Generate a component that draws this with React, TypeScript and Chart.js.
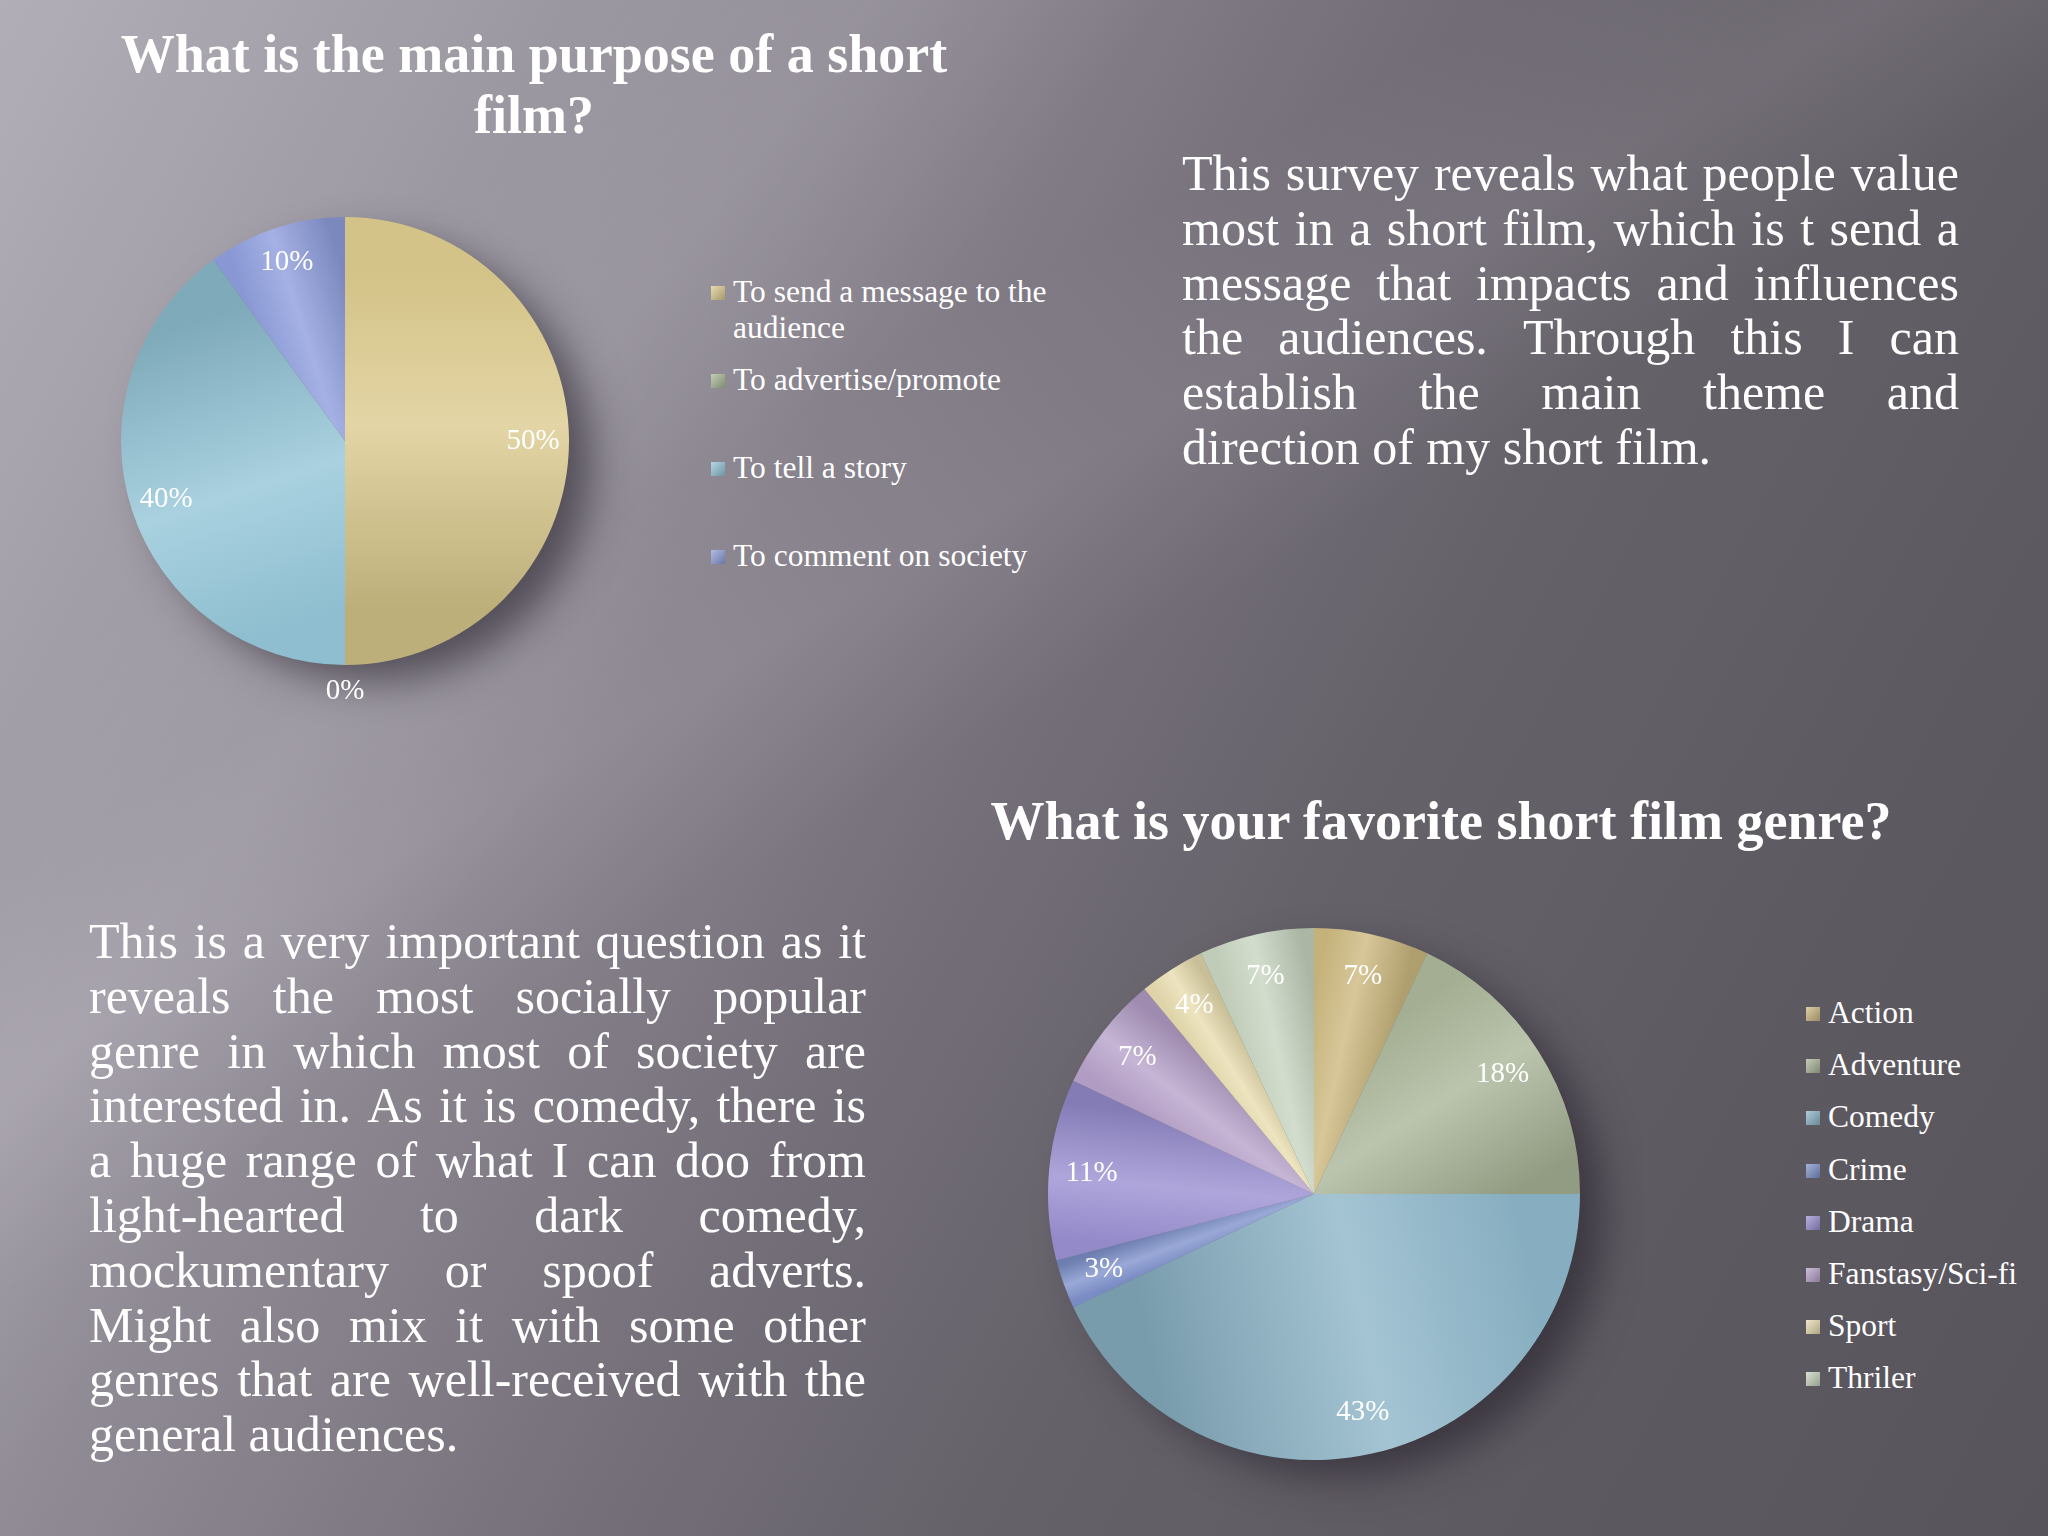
import React, { useEffect, useRef } from "react";
import { Chart, registerables } from "chart.js";

Chart.register(...registerables);

// ---------- Data ----------
const purposeTitle = ["What is the main purpose of a short", "film?"];
const purposeLabels = [
  "To send a message to the audience",
  "To advertise/promote",
  "To tell a story",
  "To comment on society",
];
const purposeValues = [50, 0, 40, 10];
const purposeColors = ["#dccb8e", "#a9b996", "#94c6d8", "#8f9edd"];

const genreTitle = "What is your favorite short film genre?";
const genreLabels = [
  "Action",
  "Adventure",
  "Comedy",
  "Crime",
  "Drama",
  "Fanstasy/Sci-fi",
  "Sport",
  "Thriler",
];
const genreValues = [7, 18, 43, 3, 11, 7, 4, 7];
const genreColors = [
  "#cdb980",
  "#aab598",
  "#8db5c8",
  "#7f92cc",
  "#9a90d2",
  "#b8a2cb",
  "#e8ddb0",
  "#c8d4c0",
];

const surveyText = [
  "This survey reveals what people value",
  "most in a short film, which is t send a",
  "message that impacts and influences",
  "the audiences. Through this I can",
  "establish the main theme and",
  "direction of my short film.",
];
const genreText = [
  "This is a very important question as it",
  "reveals the most socially popular",
  "genre in which most of society are",
  "interested in.  As it is comedy, there is",
  "a huge range of what I can doo from",
  "light-hearted to dark comedy,",
  "mockumentary or spoof adverts.",
  "Might also mix it with some other",
  "genres that are well-received with the",
  "general audiences.",
];

const FONT = "'Palatino Linotype', 'Book Antiqua', Palatino, 'Liberation Serif', serif";

// ---------- helpers ----------
function shade(hex: string, amt: number): string {
  const n = parseInt(hex.slice(1), 16);
  let r = (n >> 16) & 255, g = (n >> 8) & 255, b = n & 255;
  const f = (c: number) =>
    Math.max(0, Math.min(255, Math.round(amt >= 0 ? c + (255 - c) * amt : c * (1 + amt))));
  return `rgb(${f(r)},${f(g)},${f(b)})`;
}

function sliceFill(colors: string[]) {
  return (c: any) => {
    const chart = c.chart;
    const base = colors[c.dataIndex % colors.length];
    const area = chart.chartArea;
    if (!area) return base;
    const cx = (area.left + area.right) / 2;
    const cy = (area.top + area.bottom) / 2;
    const r = Math.min(area.right - area.left, area.bottom - area.top) / 2;
    const data = c.dataset.data as number[];
    const total = data.reduce((a, b) => a + b, 0) || 1;
    let cum = 0;
    for (let i = 0; i < c.dataIndex; i++) cum += data[i];
    const s = -Math.PI / 2 + (2 * Math.PI * cum) / total;
    const e = s + (2 * Math.PI * data[c.dataIndex]) / total;
    const x0 = cx + Math.cos(s) * r * 0.75;
    const y0 = cy + Math.sin(s) * r * 0.75;
    const x1 = cx + Math.cos(e) * r * 0.75;
    const y1 = cy + Math.sin(e) * r * 0.75;
    const ctx = chart.ctx as CanvasRenderingContext2D;
    if (Math.hypot(x1 - x0, y1 - y0) < 2) return base;
    const g = ctx.createLinearGradient(x0, y0, x1, y1);
    g.addColorStop(0, shade(base, -0.04));
    g.addColorStop(0.45, shade(base, 0.2));
    g.addColorStop(1, shade(base, -0.14));
    return g;
  };
}

const shadowPlugin = {
  id: "pieShadow",
  beforeDatasetsDraw(chart: any) {
    const arc = chart.getDatasetMeta(0).data[0];
    if (!arc) return;
    const { x, y, outerRadius } = arc.getProps(["x", "y", "outerRadius"], true);
    const ctx = chart.ctx as CanvasRenderingContext2D;
    ctx.save();
    ctx.shadowColor = "rgba(35,30,40,0.6)";
    ctx.shadowBlur = 40;
    ctx.shadowOffsetX = 26;
    ctx.shadowOffsetY = 20;
    ctx.beginPath();
    ctx.arc(x, y, outerRadius - 4, 0, Math.PI * 2);
    ctx.fillStyle = "#777";
    ctx.fill();
    ctx.restore();
  },
};

const labelPlugin = {
  id: "pctLabels",
  afterDatasetsDraw(chart: any) {
    const ctx = chart.ctx as CanvasRenderingContext2D;
    const data = chart.data.datasets[0].data as number[];
    const meta = chart.getDatasetMeta(0);
    ctx.save();
    ctx.fillStyle = "#ffffff";
    ctx.font = `29px ${FONT}`;
    ctx.textAlign = "center";
    ctx.textBaseline = "middle";
    meta.data.forEach((arc: any, i: number) => {
      const { x, y, startAngle, endAngle, outerRadius } = arc.getProps(
        ["x", "y", "startAngle", "endAngle", "outerRadius"],
        true
      );
      const mid = (startAngle + endAngle) / 2;
      const rr = data[i] === 0 ? outerRadius * 1.12 : outerRadius * 0.84;
      ctx.fillText(`${data[i]}%`, x + Math.cos(mid) * rr, y + Math.sin(mid) * rr);
    });
    ctx.restore();
  },
};

function PieChart({
  labels,
  values,
  colors,
  padding,
}: {
  labels: string[];
  values: number[];
  colors: string[];
  padding: number;
}) {
  const ref = useRef<HTMLCanvasElement | null>(null);
  useEffect(() => {
    if (!ref.current) return;
    const chart = new Chart(ref.current, {
      type: "pie",
      data: {
        labels,
        datasets: [
          {
            data: values,
            backgroundColor: sliceFill(colors) as any,
            borderWidth: 0,
          },
        ],
      },
      options: {
        responsive: true,
        maintainAspectRatio: false,
        animation: false,
        layout: { padding },
        plugins: {
          legend: { display: false },
          tooltip: { enabled: false },
        },
      },
      plugins: [shadowPlugin, labelPlugin],
    });
    return () => chart.destroy();
  }, []);
  return <canvas ref={ref} />;
}

function Legend({
  labels,
  colors,
  left,
  top,
  step,
  width,
}: {
  labels: string[];
  colors: string[];
  left: number;
  top: number;
  step: number;
  width: number;
}) {
  return (
    <div style={{ position: "absolute", left, top, width }}>
      {labels.map((l, i) => (
        <div
          key={l}
          style={{
            position: "absolute",
            top: i * step,
            left: 0,
            width,
            display: "flex",
            alignItems: "flex-start",
          }}
        >
          <div
            style={{
              width: 14,
              height: 14,
              marginTop: 12,
              marginRight: 8,
              flex: "0 0 auto",
              background: `linear-gradient(135deg, ${shade(colors[i], 0.3)}, ${shade(colors[i], -0.25)})`,
            }}
          />
          <div style={{ fontSize: 31.5, lineHeight: "36px", color: "#fff" }}>{l}</div>
        </div>
      ))}
    </div>
  );
}

function Paragraph({
  lines,
  left,
  top,
  width,
}: {
  lines: string[];
  left: number;
  top: number;
  width: number;
}) {
  return (
    <div style={{ position: "absolute", left, top, width, fontSize: 50, lineHeight: "54.8px", color: "#fff" }}>
      {lines.map((ln, i) =>
        i < lines.length - 1 ? (
          <div key={i} style={{ display: "flex", justifyContent: "space-between", whiteSpace: "pre" }}>
            {ln.split(/ +/).map((w, j) => (
              <span key={j}>{w}</span>
            ))}
          </div>
        ) : (
          <div key={i} style={{ whiteSpace: "pre" }}>
            {ln}
          </div>
        )
      )}
    </div>
  );
}

export default function App() {
  return (
    <div
      style={{
        position: "absolute",
        left: 0,
        top: 0,
        width: 2048,
        height: 1536,
        overflow: "hidden",
        fontFamily: FONT,
        background: [
          "linear-gradient(128deg, rgba(255,255,255,0) 18%, rgba(255,255,255,0.08) 27%, rgba(255,255,255,0) 36%)",
          "linear-gradient(150deg, rgba(255,255,255,0) 32%, rgba(255,240,255,0.08) 40%, rgba(255,255,255,0) 48%)",
          "linear-gradient(118deg, #b2aeb7 0%, #9e9aa4 18%, #89848e 34%, #75707a 48%, #66626a 62%, #5e5a62 80%, #58545c 100%)",
        ].join(","),
      }}
    >
      {/* Title 1 */}
      <div
        style={{
          position: "absolute",
          left: 84,
          top: 24,
          width: 900,
          textAlign: "center",
          fontWeight: "bold",
          fontSize: 54,
          lineHeight: "61px",
          color: "#fff",
        }}
      >
        {purposeTitle.map((t, i) => (
          <div key={i}>{t}</div>
        ))}
      </div>

      {/* Pie 1 */}
      <div style={{ position: "absolute", left: 45, top: 141, width: 600, height: 600 }}>
        <PieChart labels={purposeLabels} values={purposeValues} colors={purposeColors} padding={76} />
      </div>
      <Legend labels={purposeLabels} colors={purposeColors} left={711} top={274} step={88} width={370} />

      <Paragraph lines={surveyText} left={1182} top={146} width={777} />

      {/* Title 2 */}
      <div
        style={{
          position: "absolute",
          left: 941,
          top: 791,
          width: 1000,
          textAlign: "center",
          fontWeight: "bold",
          fontSize: 54,
          lineHeight: "61px",
          color: "#fff",
        }}
      >
        {genreTitle}
      </div>

      {/* Pie 2 */}
      <div style={{ position: "absolute", left: 984, top: 864, width: 660, height: 660 }}>
        <PieChart labels={genreLabels} values={genreValues} colors={genreColors} padding={64} />
      </div>
      <Legend labels={genreLabels} colors={genreColors} left={1806} top={995} step={52.2} width={240} />

      <Paragraph lines={genreText} left={89} top={914} width={777} />
    </div>
  );
}
